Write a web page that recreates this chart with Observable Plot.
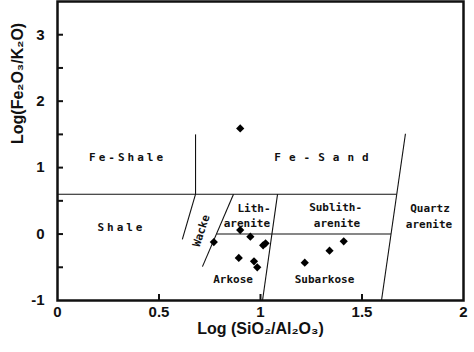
<!DOCTYPE html>
<html><head><meta charset="utf-8">
<script src="https://cdn.jsdelivr.net/npm/d3@7"></script>
<script src="https://cdn.jsdelivr.net/npm/@observablehq/plot@0.6"></script>
<style>body{margin:0;background:#fff} svg{display:block}</style>
</head><body><div id="chart"></div>
<script>
// Samples
const sampleX = [0.90, 0.77, 0.90, 0.95, 1.013, 1.025, 0.893, 0.968, 0.984, 1.218, 1.34, 1.41];
const sampleY = [1.59, -0.12, 0.06, -0.04, -0.17, -0.14, -0.36, -0.41, -0.50, -0.43, -0.25, -0.11];
// Field boundaries (segments)
const lineX1 = [0, 0.68, 0.68, 0.867, 1.084, 1.714, 0.783];
const lineY1 = [0.6, 0.6, 0.6, 0.6, 0.6, 1.51, 0];
const lineX2 = [1.671, 0.68, 0.615, 0.714, 1.01, 1.596, 1.643];
const lineY2 = [0.6, 1.5, -0.08, -0.49, -1, -1, 0];
// Field names
const fieldNames = ["Fe-Shale", "Fe-Sand", "Shale", "Lith-", "arenite", "Sublith-", "arenite", "Quartz", "arenite", "Arkose", "Subarkose"];
const fieldX = [0.345, 1.32, 0.315, 0.968, 0.933, 1.37, 1.377, 1.835, 1.83, 0.865, 1.315];
const fieldY = [1.15, 1.15, 0.10, 0.38, 0.16, 0.40, 0.16, 0.38, 0.14, -0.68, -0.68];
const wackeName = ["Wacke"];
const wackeX = [0.708];
const wackeY = [0.05];
// Axes
const xTickLabels = [0, 0.5, 1, 1.5, 2];
const xTickMarks = [0.5, 1, 1.5];
const yTickLabels = [-1, 0, 1, 2, 3];
const yTickMarks = [-0.5, 0, 0.5, 1, 1.5, 2, 2.5, 3];
const xLabel = "Log (SiO₂/Al₂O₃)";
const yLabel = "Log(Fe₂O₃/K₂O)";

const segs = lineX1.map((d, i) => ({x1: d, y1: lineY1[i], x2: lineX2[i], y2: lineY2[i]}));
const samples = sampleX.map((d, i) => ({x: d, y: sampleY[i]}));
const fields = fieldNames.map((d, i) => ({name: d, x: fieldX[i], y: fieldY[i]}));
const wacke = wackeName.map((d, i) => ({name: d, x: wackeX[i], y: wackeY[i]}));

const mono = "'DejaVu Sans Mono', 'Liberation Mono', monospace";
const plot = Plot.plot({
  width: 474, height: 352,
  marginLeft: 57, marginRight: 11, marginTop: 1, marginBottom: 52,
  x: {domain: [0, 2]},
  y: {domain: [-1, 3.5]},
  style: {fontFamily: "'Liberation Sans', Arial, sans-serif", background: "#fff", color: "#111"},
  marks: [
    Plot.axisX(xTickMarks, {tickSize: 6, dy: -6, tickFormat: () => "", strokeWidth: 2, label: null}),
    Plot.axisY(yTickMarks, {tickSize: 6, dx: 6, tickFormat: () => "", strokeWidth: 2, label: null}),
    Plot.axisX(xTickLabels, {tickSize: 0, tickPadding: 6, fontSize: 15, fontWeight: "bold", label: null, tickFormat: d => String(d)}),
    Plot.axisY(yTickLabels, {tickSize: 0, tickPadding: 13, fontSize: 15, fontWeight: "bold", label: null, tickFormat: d => String(d)}),
    Plot.link(segs, {x1: "x1", y1: "y1", x2: "x2", y2: "y2", stroke: "#111", strokeWidth: 1.1}),
    Plot.dot(samples, {x: "x", y: "y", symbol: "diamond2", r: 3.7, fill: "#000", stroke: "none"}),
    Plot.text(fields, {x: "x", y: "y", text: "name", fontFamily: mono, fontWeight: "bold", fontSize: 11, fill: "#111"}),
    Plot.text(wacke, {x: "x", y: "y", text: "name", fontFamily: mono, fontWeight: "bold", fontSize: 11, fill: "#111", rotate: -72}),
    Plot.text([xLabel], {frameAnchor: "bottom", dy: 33, fontSize: 16, fontWeight: "bold", fill: "#111"}),
    Plot.text([yLabel], {frameAnchor: "left", dx: -40, dy: -7, rotate: -90, fontSize: 16, fontWeight: "bold", fill: "#111"}),
    Plot.frame({stroke: "#111", strokeWidth: 2.5})
  ]
});
const spacing = {"Fe-Shale": 3, "Fe-Sand": 8, "Shale": 3};
d3.select(plot).selectAll("text").each(function() {
  const t = this.textContent;
  if (spacing[t] != null) this.setAttribute("letter-spacing", spacing[t]);
});
document.getElementById("chart").appendChild(plot);
</script>
</body></html>
